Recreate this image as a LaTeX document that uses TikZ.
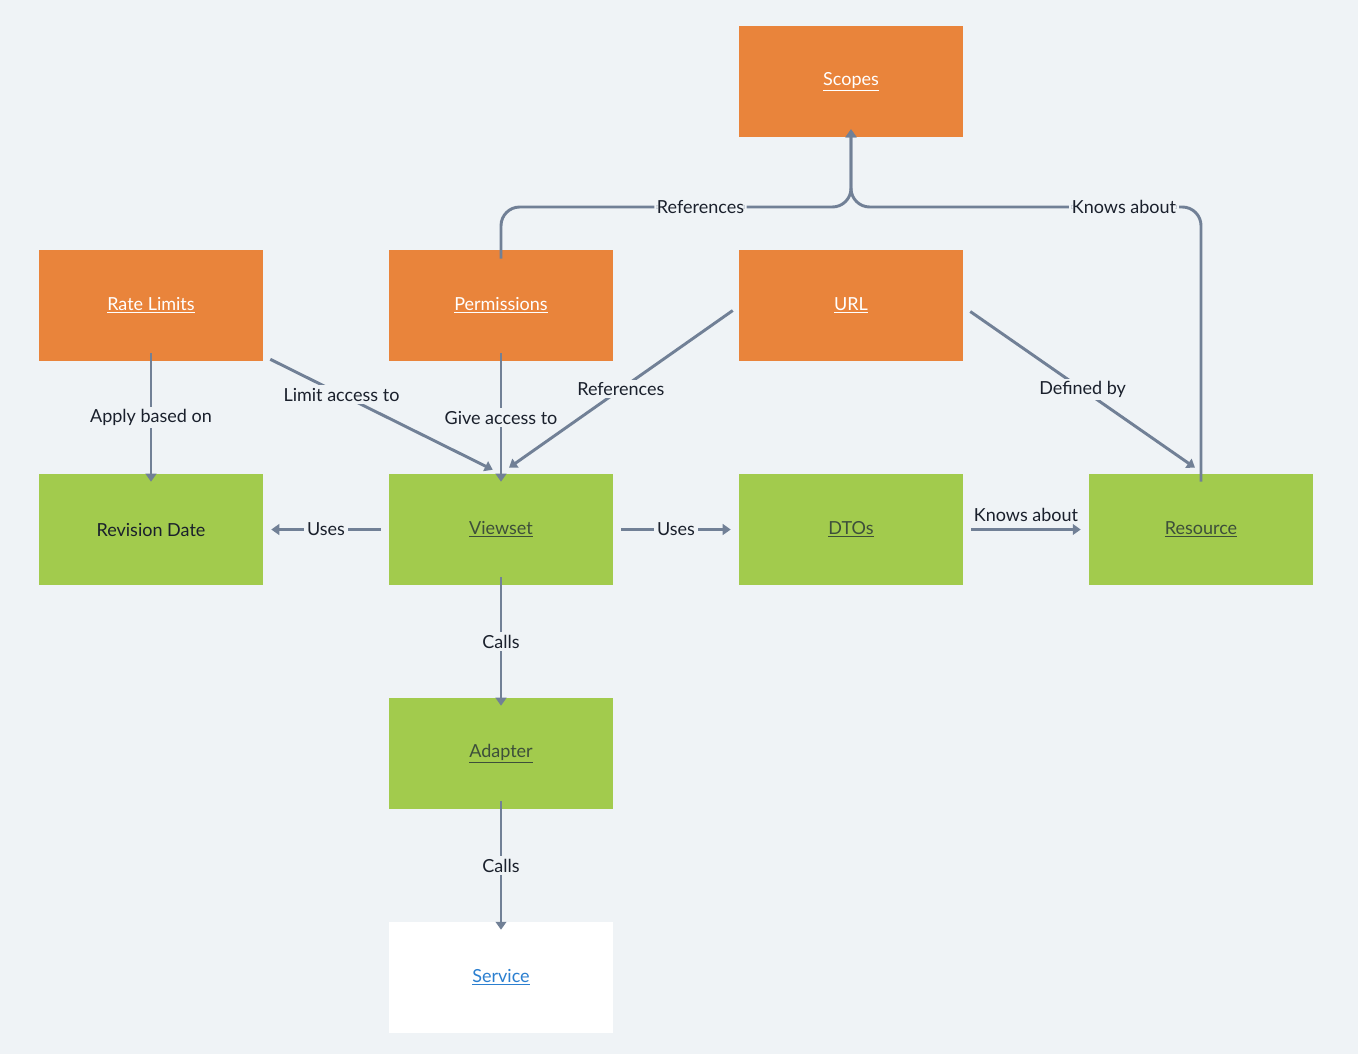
\documentclass[tikz,border=0pt]{standalone}
\usepackage{fontspec}
\setmainfont{Lato}
\usetikzlibrary{arrows.meta,calc}
\definecolor{bg}{HTML}{EFF3F6}
\definecolor{org}{HTML}{E9843B}
\definecolor{grn}{HTML}{A2CB4D}
\definecolor{ln}{HTML}{718096}
\definecolor{txt}{HTML}{1A202C}
\definecolor{lnk}{HTML}{2B7FD0}
\definecolor{gtx}{HTML}{3D4F3A}
\begin{document}
\begin{tikzpicture}[x=0.75pt,y=-0.75pt,
  box/.style={minimum width=168pt,minimum height=83.25pt,inner sep=0pt,font=\fontsize{13.5}{16}\selectfont},
  o/.style={box,fill=org,text=white},
  g/.style={box,fill=grn,text=gtx},
  w/.style={box,fill=white,text=lnk},
  e/.style={draw=ln,line width=2.2pt,-{Triangle[length=6pt,width=8pt]}},
  l/.style={fill=bg,text=txt,inner sep=2pt,font=\fontsize{13.5}{16}\selectfont}]
\fill[bg] (0,0) rectangle (1358,1054);
\useasboundingbox (0,0) rectangle (1358,1054);
\node[o] (scopes) at (851,81.5) {\underline{Scopes}};
\node[o] (rate) at (151,305.5) {\underline{Rate Limits}};
\node[o] (perm) at (501,305.5) {\underline{Permissions}};
\node[o] (url) at (851,305.5) {\underline{URL}};
\node[g,text=txt] (rev) at (151,529.5) {Revision Date};
\node[g] (view) at (501,529.5) {\underline{Viewset}};
\node[g] (dto) at (851,529.5) {\underline{DTOs}};
\node[g] (res) at (1201,529.5) {\underline{Resource}};
\node[g] (adp) at (501,753.5) {\underline{Adapter}};
\node[w] (svc) at (501,977.5) {\underline{Service}};
% coordinates
\coordinate (rl1) at ($(rate.south east)+(7,-2)$);
\coordinate (rl2) at ($(view.north west)+(104,-4)$);
\coordinate (u1) at ($(url.west)+(-6,5)$);
\coordinate (u2) at ($(view.north)+(8,-6)$);
\coordinate (u3) at ($(url.east)+(7,6)$);
\coordinate (u4) at ($(res.north)+(-6,-6)$);
\draw[e] ($(rate.south)+(0,-8)$) -- node[l]{Apply based on} ($(rev.north)+(0,8)$);
\draw[e] (rl1) -- node[l,pos=0.32]{Limit access to} (rl2);
\draw[e] ($(perm.south)+(0,-8)$) -- node[l]{Give access to} ($(view.north)+(0,8)$);
\draw[e] (u1) -- node[l,pos=0.5]{References} (u2);
\draw[e] (u3) -- node[l,pos=0.5]{Defined by} (u4);
\draw[e] ($(view.west)+(-8,0)$) -- node[l]{Uses} ($(rev.east)+(8,0)$);
\draw[e] ($(view.east)+(8,0)$) -- node[l]{Uses} ($(dto.west)+(-8,0)$);
\draw[e] ($(dto.east)+(8,0)$) -- node[l,fill=none,above=3pt]{Knows about} ($(res.west)+(-8,0)$);
\draw[e] ($(view.south)+(0,-8)$) -- node[l]{Calls} ($(adp.north)+(0,8)$);
\draw[e] ($(adp.south)+(0,-8)$) -- node[l]{Calls} ($(svc.north)+(0,8)$);
\draw[e,rounded corners=14pt] ($(perm.north)+(0,9)$) -- (501,207) -- node[l,pos=0.57]{References} (851,207) -- ($(scopes.south)+(0,-8)$);
\draw[e,rounded corners=14pt] ($(res.north)+(0,8)$) -- (1201,207) -- node[l,pos=0.22]{Knows about} (851,207) -- ($(scopes.south)+(0,-8)$);
\end{tikzpicture}
\end{document}
